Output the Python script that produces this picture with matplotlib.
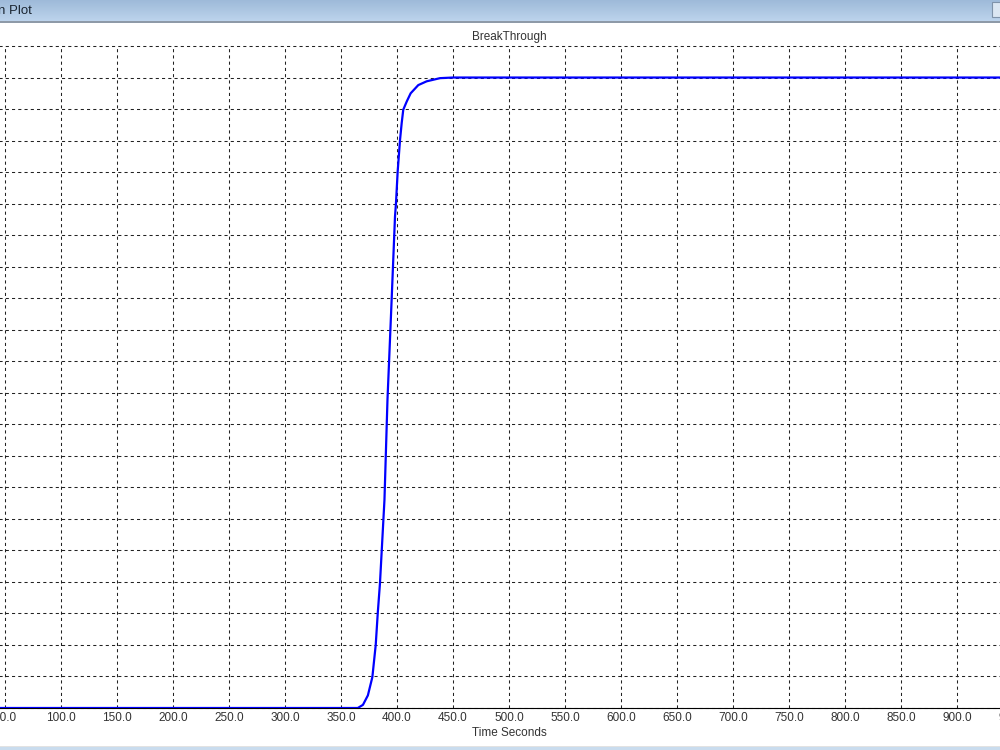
import numpy as np
import matplotlib.pyplot as plt
from matplotlib.patches import Rectangle

# breakthrough curve
time_s = [0, 100, 200, 300, 350, 365, 369.6, 374, 378, 381, 382.8, 384.8, 388.8,
          391.5, 395.2, 398.2, 399.1, 400.6, 402.7, 404.2, 405.6, 408.7, 412.2,
          419, 426.5, 438.4, 450, 600, 800, 1000]
conc = [0, 0, 0, 0, 0, 0, 0.005, 0.02, 0.049, 0.1, 0.15, 0.198, 0.33,
        0.489, 0.647, 0.779, 0.801, 0.851, 0.901, 0.928, 0.949, 0.962, 0.975,
        0.988, 0.994, 0.999, 1.0, 1.0, 1.0, 1.0]

x_ticks = np.arange(0, 1001, 50)
y_ticks = np.arange(0, 1.0501, 0.05)

W, H = 1000, 750
fig = plt.figure(figsize=(10, 7.5), dpi=100)
fig.patch.set_facecolor('white')

# window title bar (screenshot chrome)
bar = fig.add_axes([0, 1 - 21 / H, 1, 21 / H])
grad = np.linspace(0, 1, 50).reshape(-1, 1)
top_c = np.array([0.62, 0.73, 0.85])
bot_c = np.array([0.74, 0.83, 0.93])
img = top_c + (bot_c - top_c) * grad[:, :, None]
bar.imshow(img.repeat(2, axis=1), aspect='auto', extent=[0, 1, 0, 1])
bar.set_axis_off()
bar.text(-0.002, 0.5, 'n Plot', fontsize=9.5, family='Liberation Sans',
         color='#1b2633', va='center', ha='left')
bar.add_patch(Rectangle((0.992, 0.2), 0.02, 0.7, facecolor='#dbe6f2',
                        edgecolor='#7f93aa', lw=0.8, clip_on=False))
fig.patches.append(Rectangle((0, 1 - 23 / H), 1, 2 / H, transform=fig.transFigure,
                             facecolor='#8e9aa8', edgecolor='none'))
fig.patches.append(Rectangle((0, 0), 1, 3 / H, transform=fig.transFigure,
                             facecolor='#c9dcee', edgecolor='none'))
fig.patches.append(Rectangle((0, 3 / H), 1, 1 / H, transform=fig.transFigure,
                             facecolor='#e2e2e2', edgecolor='none'))

# plot area: x 0 -> -51px, 1000 -> 1069px; y 0 -> 708px, 1.05 -> 46px (from top)
left = -51 / W
width = 1120 / W
bottom = (H - 708) / H
height = (708 - 46) / H
ax = fig.add_axes([left, bottom, width, height])

ax.plot(time_s, conc, color='#0000ff', lw=1.6, zorder=3)

ax.set_xlim(0, 1000)
ax.set_ylim(0, 1.05)
ax.set_xticks(x_ticks)
ax.set_xticklabels(['%.1f' % t for t in x_ticks])
ax.set_yticks(y_ticks)
ax.set_yticklabels([])
ax.tick_params(axis='both', length=0, pad=3, labelsize=8.5, labelcolor='#333333')
for lab in ax.get_xticklabels():
    lab.set_family('Liberation Sans')

ax.grid(True, color='#222222', lw=0.75, linestyle=(0, (3, 3)))
for gl in ax.get_xgridlines() + ax.get_ygridlines():
    gl.set_clip_on(False)

for side in ['top', 'left', 'right']:
    ax.spines[side].set_visible(False)
ax.spines['bottom'].set_color('#000000')
ax.spines['bottom'].set_linewidth(0.8)

ax.set_title('BreakThrough', fontsize=8.5, family='Liberation Sans',
             color='#333333', pad=4)
ax.set_xlabel('Time Seconds', fontsize=8.5, family='Liberation Sans',
              color='#333333', labelpad=2)

fig.savefig('out.png', dpi=100)
